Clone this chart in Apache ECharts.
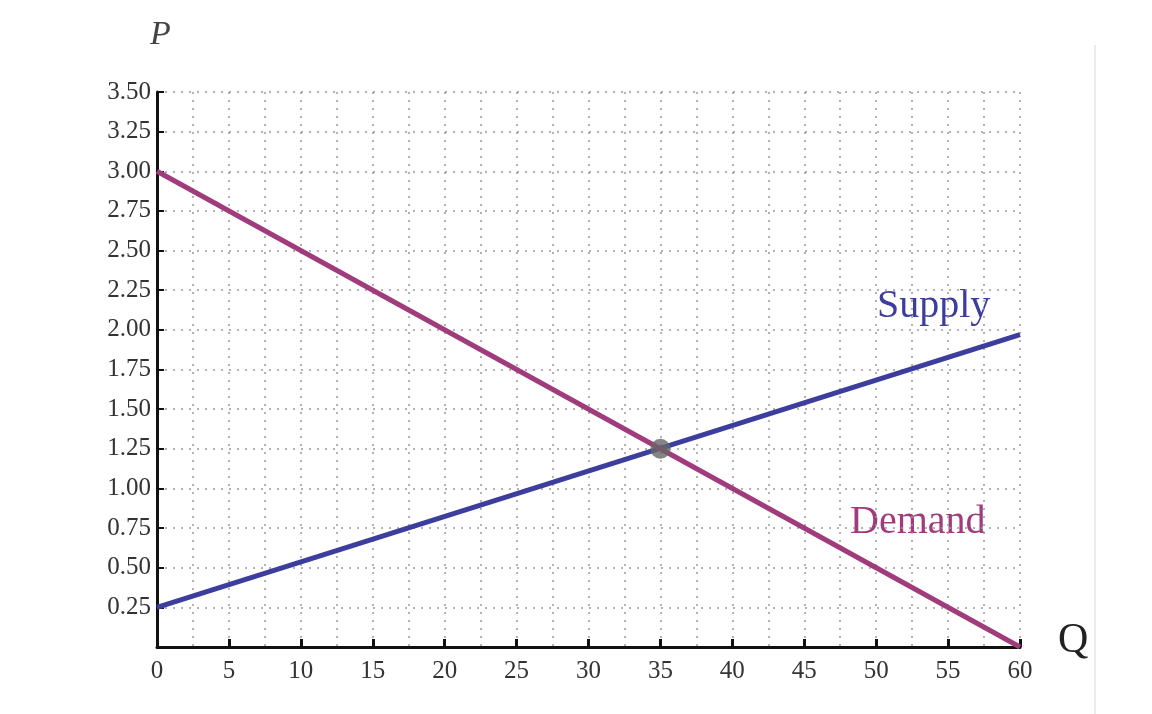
<!DOCTYPE html>
<html><head><meta charset="utf-8">
<script src="https://cdn.jsdelivr.net/npm/echarts@6/dist/echarts.min.js"></script>
<style>html,body{margin:0;background:#fff}#c{width:1152px;height:714px}</style>
</head><body><div id="c"></div>
<script>
const supplyQ = [0, 60];
const supplyP = [0.25, 1.97];
const demandQ = [0, 60];
const demandP = [3.0, 0.0];
const equilibrium = [35, 1.25];
const yTicks = ['0.25','0.50','0.75','1.00','1.25','1.50','1.75','2.00','2.25','2.50','2.75','3.00','3.25','3.50'];

const font = 'Liberation Serif, DejaVu Serif, serif';
const chart = echarts.init(document.getElementById('c'));
chart.setOption({
  animation:false,
  backgroundColor:'#fff',
  grid:{left:157,right:132,top:92,bottom:67},
  xAxis:{type:'value',min:0,max:60,interval:5,
    axisLine:{lineStyle:{color:'#111',width:3}},
    axisTick:{inside:true,length:8,lineStyle:{color:'#111',width:3}},
    axisLabel:{color:'#333',fontFamily:font,fontSize:25,margin:12},
    splitLine:{show:true,lineStyle:{type:[2,6],color:'#999',width:1.5}},
    minorTick:{show:false,splitNumber:2},
    minorSplitLine:{show:true,lineStyle:{type:[2,6],color:'#999',width:1.5}}},
  yAxis:{type:'value',min:0,max:3.5,interval:0.25,
    axisLine:{show:true,lineStyle:{color:'#111',width:3}},
    axisTick:{show:true,inside:true,length:7,lineStyle:{color:'#111',width:2}},
    axisLabel:{color:'#333',fontFamily:font,fontSize:25,margin:6,
      formatter:v=>{const s=v.toFixed(2);return yTicks.includes(s)?s:'';}},
    splitLine:{show:true,lineStyle:{type:[2,6],color:'#999',width:1.5}}},
  graphic:[
    {type:'text',left:1058,top:620,style:{text:'Q',font:'42px '+font,fill:'#222'}},
    {type:'text',left:150,top:18,style:{text:'P',font:'italic 34px '+font,fill:'#444'}},
    {type:'text',left:877,top:286,style:{text:'Supply',font:'40px '+font,fill:'#3d3d9e'}},
    {type:'text',left:850,top:502,style:{text:'Demand',font:'40px '+font,fill:'#a13c7c'}},
    {type:'line',shape:{x1:1095,y1:45,x2:1095,y2:714},style:{stroke:'#e4e4e4',lineWidth:1.5}}
  ],
  series:[
    {type:'line',data:supplyQ.map((q,i)=>[q,supplyP[i]]),symbol:'none',
      lineStyle:{color:'#3d3d9e',width:5}},
    {type:'line',data:demandQ.map((q,i)=>[q,demandP[i]]),symbol:'none',
      lineStyle:{color:'#a13c7c',width:5}},
    {type:'scatter',data:[equilibrium],symbolSize:20,itemStyle:{color:'#666'},z:5}
  ]
});
</script></body></html>
